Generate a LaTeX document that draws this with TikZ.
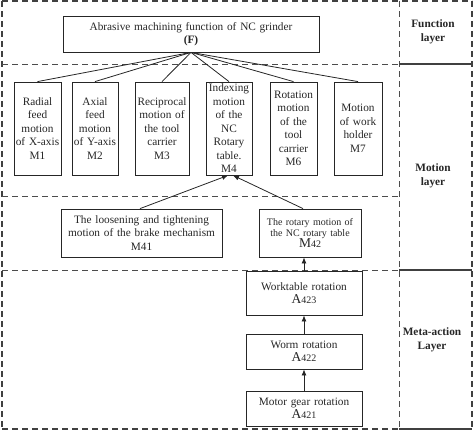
\documentclass[tikz,border=0pt]{standalone}
\usepackage{fontspec}
\setmainfont{Liberation Serif}
\usetikzlibrary{arrows.meta}
\begin{document}
\begin{tikzpicture}[x=1pt,y=-1pt,
  box/.style={draw=black!85, line width=0.8pt, inner sep=1pt, align=center, text=black!85,
    font=\fontsize{11.3}{13.5}\selectfont},
  lab/.style={align=center, text=black!85, font=\fontsize{11.3}{13.5}\selectfont\bfseries},
  conn/.style={draw=black!85, line width=0.8pt},
  arr/.style={draw=black!85, line width=0.8pt, -{Latex[length=6pt,width=5pt]}},
  outerdash/.style={draw=black!75, line width=1.6pt, dash pattern=on 6pt off 4pt},
  innerdash/.style={draw=black!70, line width=0.9pt, dash pattern=on 6pt off 4pt},
  solidline/.style={draw=black!75, line width=1.1pt}]
\useasboundingbox (0,0) rectangle (474,431);

% frame
\draw[outerdash] (2,1) -- (472,1);
\draw[outerdash] (2,1) -- (2,429);
\draw[outerdash] (472,1) -- (472,429);
\draw[outerdash] (2,429) -- (399,429);
\draw[innerdash] (399,1) -- (399,429);
\draw[innerdash] (2,64) -- (399,64);
\draw[innerdash] (2,196) -- (399,196);
\draw[innerdash] (2,270) -- (399,270);
\draw[solidline] (399,64) -- (472,64);
\draw[solidline] (399,270) -- (472,270);
\draw[solidline] (399,429) -- (472,429);

% layer labels
\node[lab] (lf) at (433,32) {Function\\layer};
\node[lab] (lm) at (433,176) {Motion\\layer};
\node[lab] (la) at (432,340) {Meta-action\\Layer};

% function node
\node[box, minimum width=256pt, minimum height=36pt, text width=250pt] (F) at (191,34)
  {Abrasive machining function of NC grinder\\\textbf{(F)}};

% motion nodes
\node[box, minimum width=47pt, minimum height=93pt, text width=45pt] (m1) at (37.5,128.5)
  {Radial\\feed\\motion\\of X-axis\\M1};
\node[box, minimum width=46pt, minimum height=93pt, text width=44pt] (m2) at (95,128.5)
  {Axial\\feed\\motion\\of Y-axis\\M2};
\node[box, minimum width=54pt, minimum height=93pt, text width=52pt] (m3) at (162,128.5)
  {Reciprocal\\motion of\\the tool\\carrier\\M3};
\node[box, minimum width=46pt, minimum height=93pt, text width=44pt] (m4) at (229,128.5)
  {Indexing\\motion\\of the\\NC\\Rotary\\table.\\M4};
\node[box, minimum width=47pt, minimum height=93pt, text width=45pt] (m6) at (293.5,128.5)
  {Rotation\\motion\\of the\\tool\\carrier\\M6};
\node[box, minimum width=48pt, minimum height=93pt, text width=46pt] (m7) at (358,128.5)
  {Motion\\of work\\holder\\M7};

\foreach \m in {m1,m2,m3,m4,m6,m7} \draw[conn] (F.south) -- (\m.north);

% sub-motion nodes
\node[box, minimum width=161pt, minimum height=48pt, text width=158pt] (m41) at (141.5,233)
  {The loosening and tightening\\motion of the brake mechanism\\M41};
\node[box, minimum width=102pt, minimum height=48pt, text width=100pt,
  font=\fontsize{10}{11}\selectfont] (m42) at (310,233)
  {The rotary motion of\\the NC rotary table\\[0.5pt]{\fontsize{13.5}{14}\selectfont M}42};

\draw[arr] ([xshift=-1.5pt]m41.north) -- ([xshift=-1pt]m4.south);
\draw[arr] ([xshift=-7pt]m42.north) -- ([xshift=4pt]m4.south);

% meta-action nodes
\node[box, minimum width=116pt, minimum height=44pt, text width=113pt] (a423) at (304,293)
  {Worktable rotation\\{\fontsize{13.5}{14}\selectfont A}{\fontsize{10}{12}\selectfont 423}};
\node[box, minimum width=116pt, minimum height=35pt, text width=113pt] (a422) at (304,351.5)
  {Worm rotation\\{\fontsize{13.5}{14}\selectfont A}{\fontsize{10}{12}\selectfont 422}};
\node[box, minimum width=116pt, minimum height=35pt, text width=113pt] (a421) at (304,408.5)
  {Motor gear rotation\\{\fontsize{13.5}{14}\selectfont A}{\fontsize{10}{12}\selectfont 421}};

\draw[arr] (a423.north) -- (a423.north |- m42.south);
\draw[arr] (a422.north) -- (a423.south);
\draw[arr] (a421.north) -- (a422.south);
\end{tikzpicture}
\end{document}
